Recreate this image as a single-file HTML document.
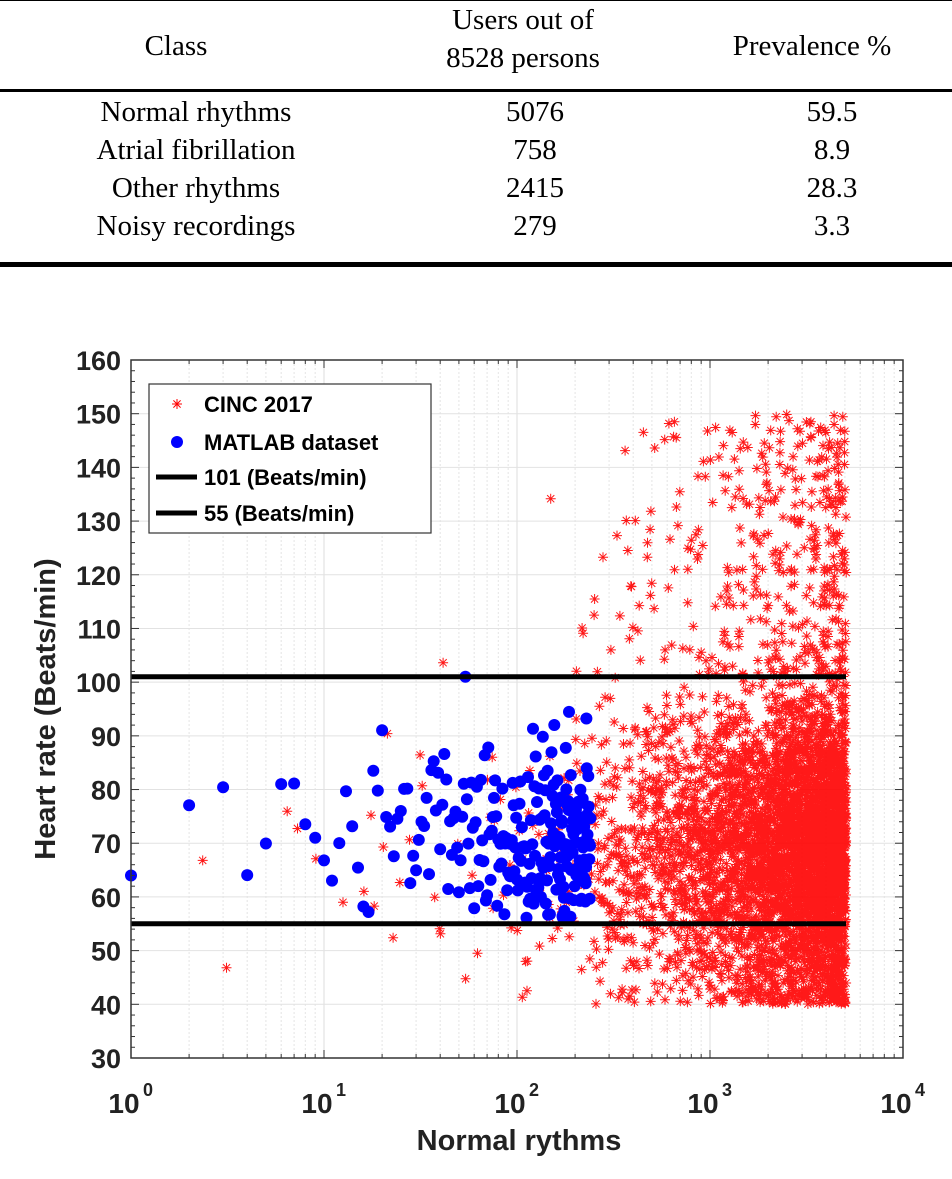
<!DOCTYPE html>
<html><head><meta charset="utf-8"><style>
body{margin:0;background:#fff;width:952px;height:1179px;overflow:hidden;position:relative;font-family:"Liberation Serif",serif}
.t{position:absolute;font-size:29px;color:#000;text-align:center;white-space:nowrap;transform:translateX(-50%);line-height:1}
.r{position:absolute;left:0;width:952px;background:#000}
</style></head><body>
<div class="r" style="top:0;height:1px"></div>
<div class="r" style="top:89px;height:3px"></div>
<div class="r" style="top:262px;height:5px"></div>
<div class="t" style="left:176px;top:32px">Class</div>
<div class="t" style="left:523px;top:6px">Users out of</div>
<div class="t" style="left:523px;top:44px">8528 persons</div>
<div class="t" style="left:812px;top:32px">Prevalence %</div>
<div class="t" style="left:196px;top:98px">Normal rhythms</div>
<div class="t" style="left:196px;top:136px">Atrial fibrillation</div>
<div class="t" style="left:196px;top:174px">Other rhythms</div>
<div class="t" style="left:196px;top:212px">Noisy recordings</div>
<div class="t" style="left:535px;top:98px">5076</div>
<div class="t" style="left:535px;top:136px">758</div>
<div class="t" style="left:535px;top:174px">2415</div>
<div class="t" style="left:535px;top:212px">279</div>
<div class="t" style="left:832px;top:98px">59.5</div>
<div class="t" style="left:832px;top:136px">8.9</div>
<div class="t" style="left:832px;top:174px">28.3</div>
<div class="t" style="left:832px;top:212px">3.3</div>
<svg id="s" width="952" height="1179" style="position:absolute;left:0;top:0" font-family="Liberation Sans, sans-serif" font-weight="bold"></svg>
<script>
var L=131,R=903,T=360,B=1058;
function X(v){return L+Math.log10(v)*(R-L)/4}
function Y(v){return T+(160-v)*(B-T)/130}
var s=1234567;function rnd(){s=(s*1103515245+12345)%2147483648;return s/2147483648}
function gauss(){var u=rnd()||1e-9,v=rnd();return Math.sqrt(-2*Math.log(u))*Math.cos(6.2832*v)}
var h='';
for(var d=0;d<4;d++)for(var k=1;k<10;k++){var x=X(Math.pow(10,d)*k);if(k==1){if(d>0)h+='<line x1="'+x+'" y1="'+T+'" x2="'+x+'" y2="'+B+'" stroke="#ddd" stroke-width="1"/>';}else h+='<line x1="'+x+'" y1="'+T+'" x2="'+x+'" y2="'+B+'" stroke="#e4e4e4" stroke-width="1" stroke-dasharray="2,2"/>';}
for(var v=40;v<160;v+=10){var y=Y(v);h+='<line x1="'+L+'" y1="'+y+'" x2="'+R+'" y2="'+y+'" stroke="#e2e2e2" stroke-width="1"/>';}
var st='';
function star(x,y){x=Math.round(x*10)/10;y=Math.round(y*10)/10;var a=5,b=3.6;return 'M'+(x-a)+' '+y+'h'+(2*a)+'M'+x+' '+(y-a)+'v'+(2*a)+'M'+(x-b)+' '+(y-b)+'l'+(2*b)+' '+(2*b)+'M'+(x-b)+' '+(y+b)+'l'+(2*b)+' '+(-2*b);}
for(var i=1;i<=5076;i++){var y;var p=rnd();
 if(p<0.06)y=101+rnd()*49;else if(p<0.1)y=40+rnd()*61;else{y=68+gauss()*14;}
 if(y>150)y=150-rnd()*3;if(y<40)y=40+rnd()*3;
 if(i<250 && rnd()<0.6) continue;
 st+=star(X(i+rnd()*0.9),Y(y));}
h+='<path d="'+st+'" stroke="#ff0000" stroke-width="1" fill="none" stroke-opacity="0.9"/>';
for(var i=1;i<=240;i++){var y=71+gauss()*8.5;if(y<56)y=56+rnd()*4;if(y>98)y=90+rnd()*8;if(i==54)y=101;
 h+='<circle cx="'+X(i).toFixed(1)+'" cy="'+Y(y).toFixed(1)+'" r="6" fill="#0000ff"/>';}
h+='<line x1="'+L+'" y1="'+Y(101)+'" x2="846" y2="'+Y(101)+'" stroke="#000" stroke-width="5"/>';
h+='<line x1="'+L+'" y1="'+Y(55)+'" x2="846" y2="'+Y(55)+'" stroke="#000" stroke-width="5"/>';
h+='<rect x="'+L+'" y="'+T+'" width="'+(R-L)+'" height="'+(B-T)+'" fill="none" stroke="#333" stroke-width="1.5"/>';
for(var v=30;v<=160;v+=2){var y=Y(v),w=(v%10==0)?8:4;h+='<line x1="'+L+'" y1="'+y+'" x2="'+(L+w)+'" y2="'+y+'" stroke="#333"/><line x1="'+R+'" y1="'+y+'" x2="'+(R-w)+'" y2="'+y+'" stroke="#333"/>';}
for(var d=0;d<4;d++)for(var k=1;k<10;k++){var x=X(Math.pow(10,d)*k),w=k==1?8:4;h+='<line x1="'+x+'" y1="'+B+'" x2="'+x+'" y2="'+(B-w)+'" stroke="#333"/><line x1="'+x+'" y1="'+T+'" x2="'+x+'" y2="'+(T+w)+'" stroke="#333"/>';}
for(var v=30;v<=160;v+=10)h+='<text x="121" y="'+(Y(v)+10)+'" font-size="27" text-anchor="end" fill="#222">'+v+'</text>';
for(var d=0;d<=4;d++){var x=X(Math.pow(10,d));h+='<text x="'+(x-7)+'" y="1113" font-size="28" text-anchor="middle" fill="#222">10</text><text x="'+(x+17)+'" y="1096" font-size="18" text-anchor="middle" fill="#222">'+d+'</text>';}
h+='<text x="519" y="1150" font-size="29" text-anchor="middle" fill="#222">Normal rythms</text>';
h+='<text transform="translate(55,709) rotate(-90)" font-size="29" text-anchor="middle" fill="#222">Heart rate (Beats/min)</text>';
h+='<rect x="149" y="384" width="282" height="149" fill="#fff" stroke="#333" stroke-width="1.2"/>';
h+='<path d="'+star(177,404)+'" stroke="#f00" stroke-width="1" fill="none"/>';
h+='<circle cx="177" cy="442" r="6" fill="#0000ff"/>';
h+='<line x1="156" y1="477" x2="197" y2="477" stroke="#000" stroke-width="5"/><line x1="156" y1="513" x2="197" y2="513" stroke="#000" stroke-width="5"/>';
var lt=['CINC 2017','MATLAB dataset','101 (Beats/min)','55 (Beats/min)'],ly=[404,442,477,513];
for(var i=0;i<4;i++)h+='<text x="204" y="'+(ly[i]+8)+'" font-size="22" fill="#000">'+lt[i]+'</text>';
document.getElementById('s').innerHTML=h;
</script>
</body></html>
